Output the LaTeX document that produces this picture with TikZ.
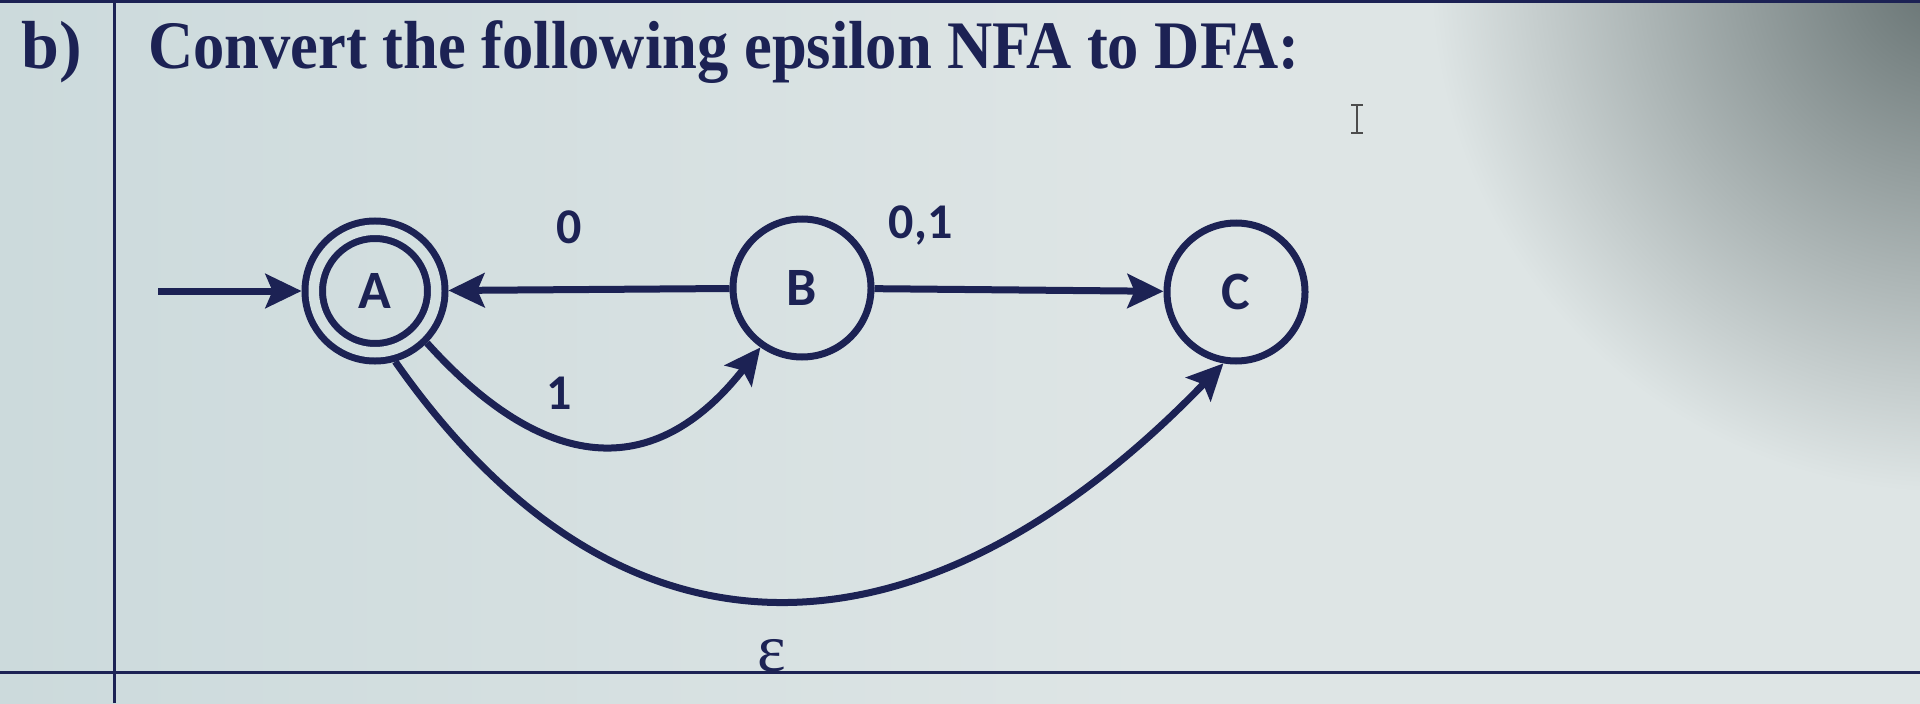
\documentclass[tikz,border=0pt]{standalone}
\usepackage{fontspec}
\setmainfont{Liberation Serif}
\newfontfamily\statefont{Carlito}
\usetikzlibrary{arrows.meta}

\definecolor{ink}{RGB}{28,34,84}
\definecolor{paperl}{RGB}{204,218,220}
\definecolor{paperr}{RGB}{222,229,229}
\definecolor{paperm}{RGB}{211,223,224}
\definecolor{vign}{RGB}{100,112,112}
\pgfdeclarehorizontalshading{paper}{100bp}{color(0bp)=(paperl); color(25bp)=(paperl); color(55bp)=(paperr); color(100bp)=(paperr)}

\begin{document}
\begin{tikzpicture}[x=0.5pt, y=0.5pt, line width=3.5pt, color=ink,
    >={Stealth[length=18pt, width=17pt, inset=3.5pt]},
    main/.style = {draw, circle, minimum size=69pt, inner sep=0pt,
        font=\statefont\bfseries\fontsize{27pt}{32pt}\selectfont},
    accept/.style = {main, minimum size=61.25pt, double=paperm, double distance=5.25pt, outer sep=6.1pt},
    lbl/.style = {inner sep=1pt, font=\statefont\bfseries\fontsize{25pt}{30pt}\selectfont},
    head/.style = {inner sep=0pt, font=\bfseries\fontsize{34pt}{40pt}\selectfont}]
  \useasboundingbox (0,0) rectangle (1920,703);
  \shade[shading=paper] (0,0) rectangle (1920,703);
  \begin{scope}
    \clip (1160,0) rectangle (1920,703);
    \shade[inner color=vign, outer color=paperr] (1950,730) circle (520);
  \end{scope}
  % table rules
  \draw[line width=2.5pt] (0,702) -- (1920,702);
  \draw[line width=1.5pt] (114,0) -- (114,703);
  \draw[line width=1.5pt] (0,31) -- (1920,31);
  % question
  \node[head, anchor=base west] (part) at (18,634) {b)};
  \node[head, anchor=base west, xscale=0.92] (title) at (145,634) {Convert the following epsilon NFA to DFA:};
  % cursor
  \draw[line width=1pt, black!70] (1357,570) -- (1357,598)
    (1351,598) -- (1363,598) (1351,570) -- (1363,570);
  % states
  \node[accept] (A) at (375,412) {A};
  \node[main] (B) at (802,415) {B};
  \node[main] (C) at (1236,411) {C};
  \coordinate (start) at (158,412);
  % transitions
  \draw[->] (start) -- (A);
  \draw[->] (B) -- (A) node[lbl, pos=0.57, above=20pt] {0};
  \draw[->] (B) -- (C) node[lbl, pos=0.16, above=19pt] {0,1};
  \draw[->] (A.-45) to [out=-48,in=-128,looseness=1.33] node[lbl, midway, xshift=-19pt, yshift=26pt] {1} (B.-125);
  \draw[->] (A.-74) to [out=-55,in=-134,looseness=1.27] node[midway, xshift=-9.5pt, yshift=-28pt, font=\fontsize{34pt}{38pt}\selectfont] {ε} (C.260);
\end{tikzpicture}
\end{document}
